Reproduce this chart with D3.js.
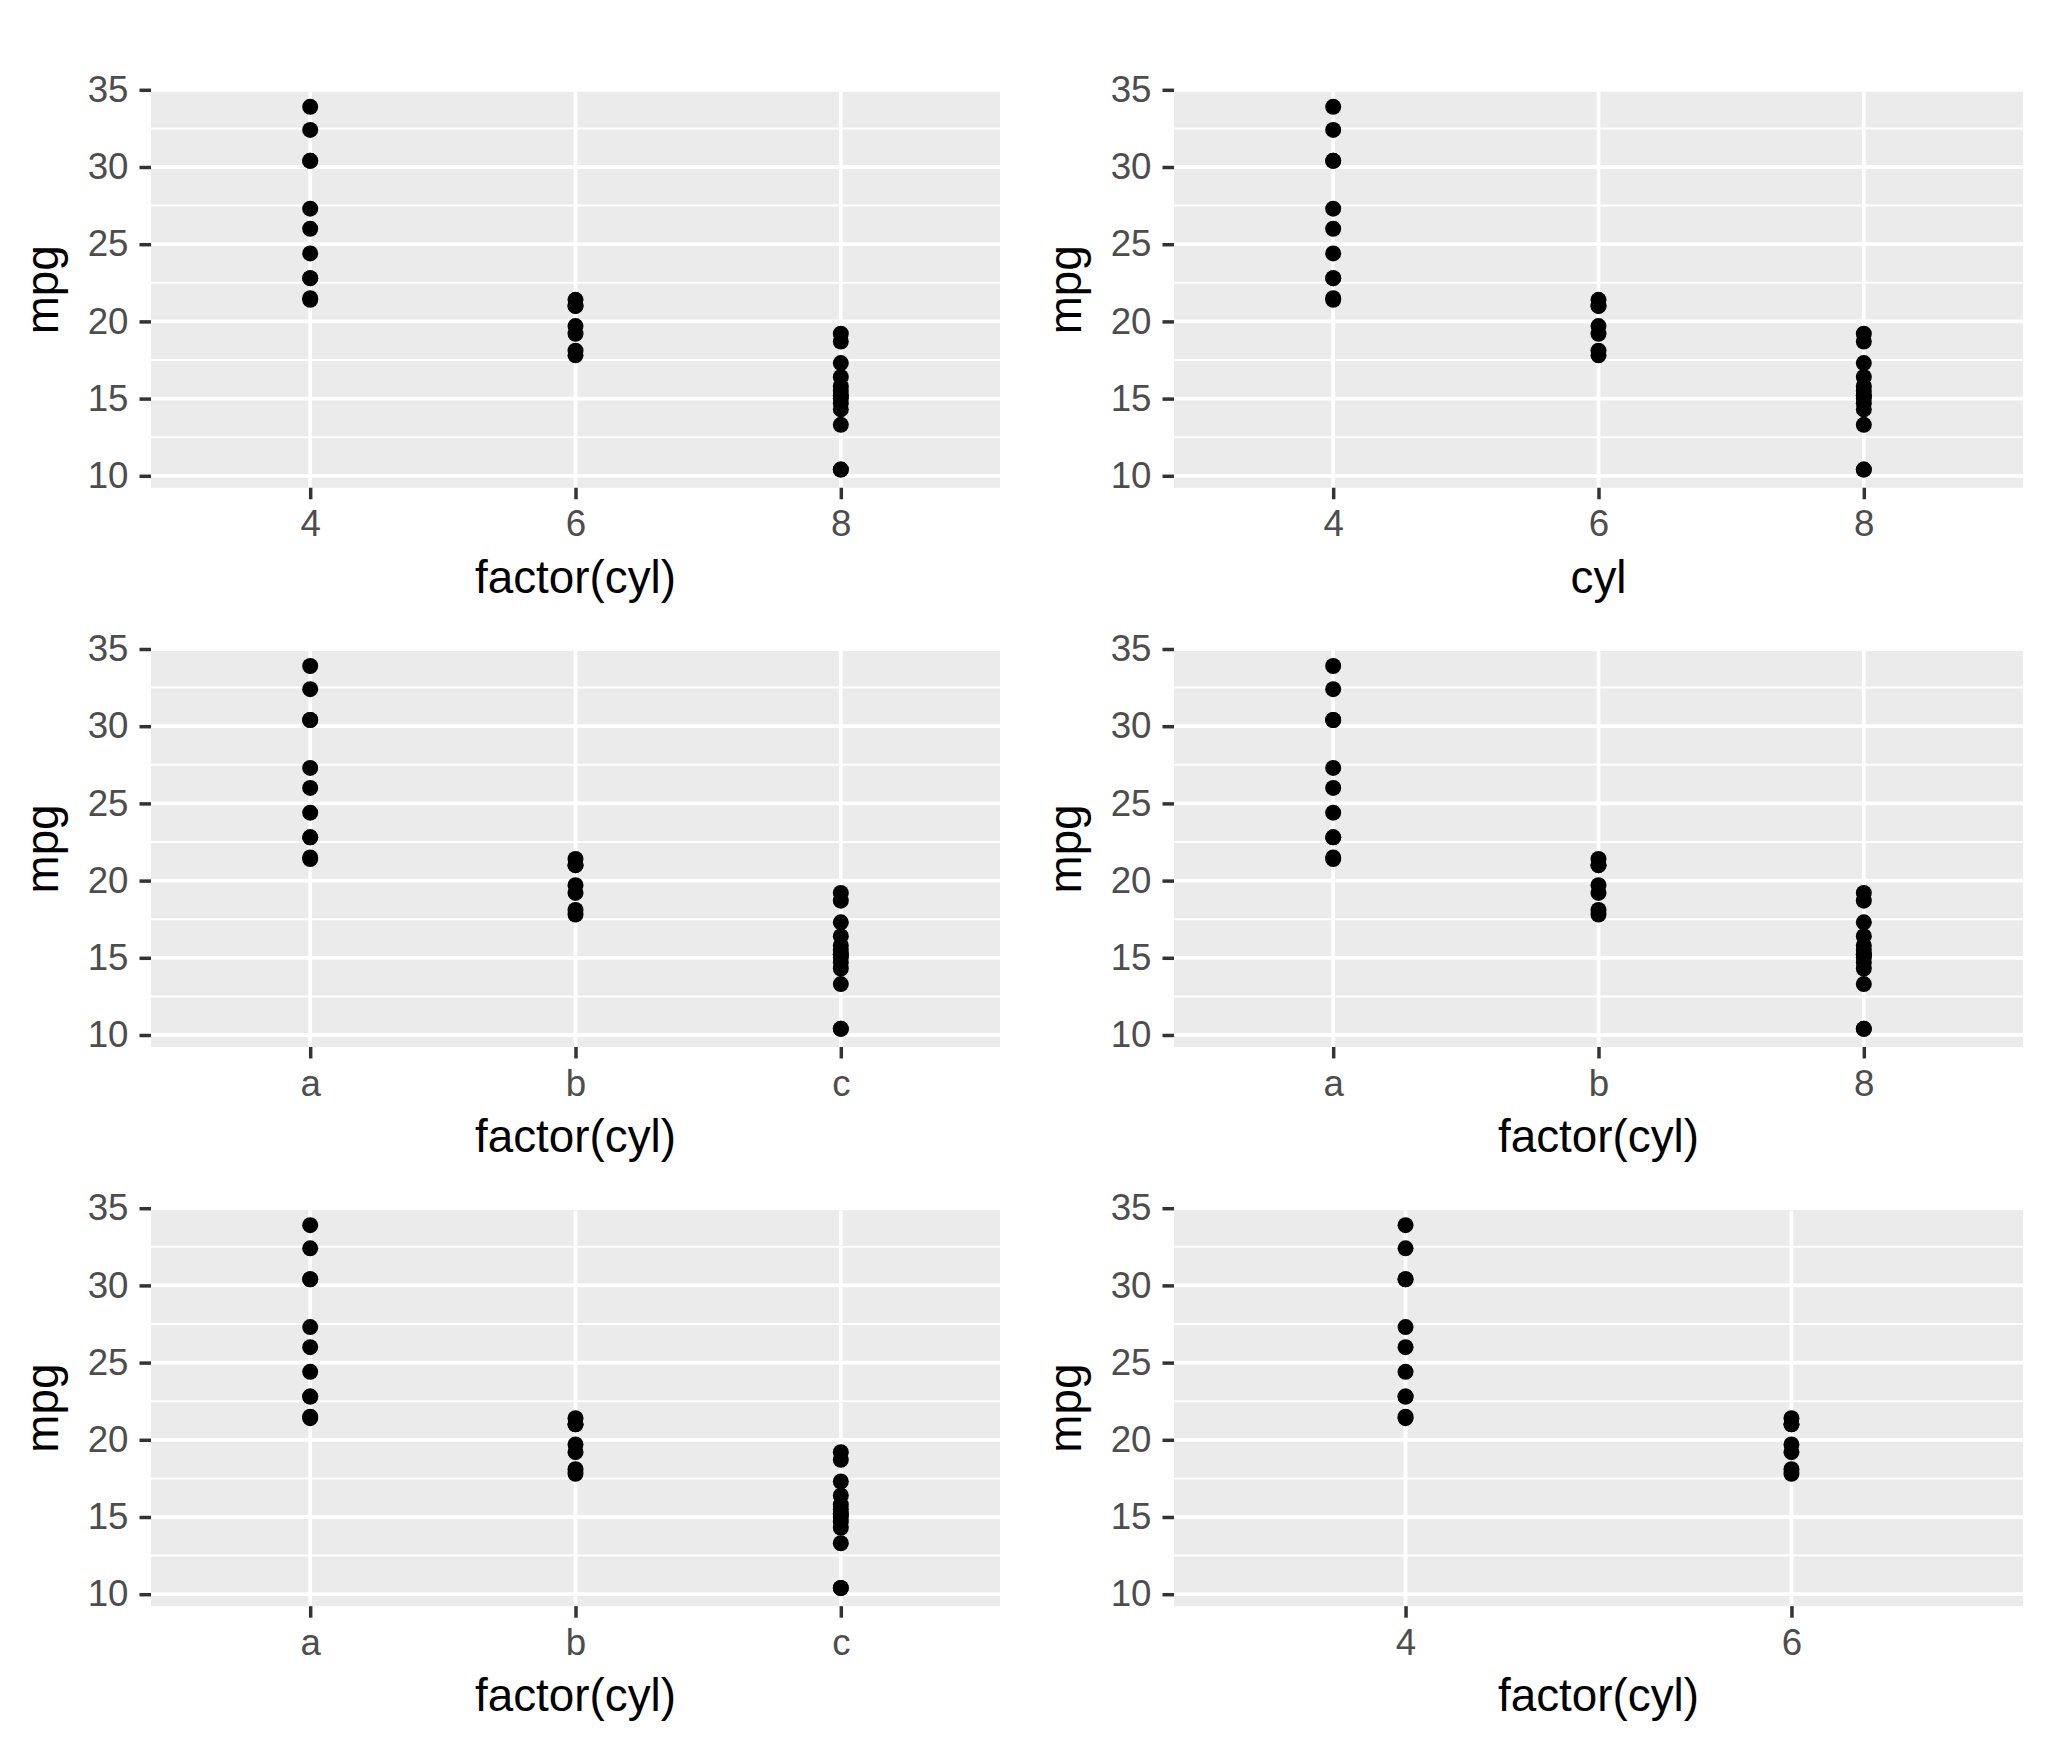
<!DOCTYPE html>
<html>
<head>
<meta charset="utf-8">
<script src="https://cdn.jsdelivr.net/npm/d3@7"></script>
<style>
  body { margin: 0; background: #fff; }
  svg text { font-family: "Liberation Sans", Arial, sans-serif; }
</style>
</head>
<body>
<div id="chart"></div>
<script>
// mtcars mpg, split by cylinder count
var mpg4 = [22.8, 24.4, 22.8, 32.4, 30.4, 33.9, 21.5, 27.3, 26.0, 30.4, 21.4];
var mpg6 = [21.0, 21.0, 21.4, 18.1, 19.2, 17.8, 19.7];
var mpg8 = [18.7, 14.3, 16.4, 17.3, 15.2, 10.4, 10.4, 14.7, 15.5, 15.2, 13.3, 19.2, 15.8, 15.0];

var yTicks = [10, 15, 20, 25, 30, 35];
var yMinor = [12.5, 17.5, 22.5, 27.5, 32.5];

// one entry per panel, row by row
var panelLevels = [["4","6","8"], ["4","6","8"], ["4","6","8"], ["4","6","8"], ["4","6","8"], ["4","6"]];
var panelLabels = [["4","6","8"], ["4","6","8"], ["a","b","c"], ["a","b","8"], ["a","b","c"], ["4","6"]];
var panelXTitle = ["factor(cyl)", "cyl", "factor(cyl)", "factor(cyl)", "factor(cyl)", "factor(cyl)"];

var W = 2046, H = 1743;
var colX = [151, 1174];
var panelW = 849;
var rowY35 = [89.8, 649, 1208.2];
var pxPerUnit = 15.44;

var byLevel = {"4": mpg4, "6": mpg6, "8": mpg8};

var svg = d3.select("#chart").append("svg")
  .attr("width", W)
  .attr("height", H);

panelLevels.forEach(function(levels, i) {
  var col = i % 2, row = Math.floor(i / 2);
  var left = colX[col];
  var y35 = rowY35[row];

  var y = d3.scaleLinear()
    .domain([10, 35])
    .range([y35 + 25 * pxPerUnit, y35]);
  var top = y(34.875), bottom = y(9.225);

  var x = d3.scalePoint()
    .domain(levels)
    .range([left, left + panelW])
    .padding(0.6);

  var g = svg.append("g");

  var clipId = "clip" + i;
  g.append("clipPath").attr("id", clipId)
    .append("rect")
    .attr("x", left).attr("y", top)
    .attr("width", panelW).attr("height", bottom - top);

  g.append("rect")
    .attr("x", left).attr("y", top)
    .attr("width", panelW).attr("height", bottom - top)
    .attr("fill", "#EBEBEB");

  var grid = g.append("g").attr("clip-path", "url(#" + clipId + ")");

  grid.selectAll(".minor").data(yMinor).enter().append("line")
    .attr("x1", left).attr("x2", left + panelW)
    .attr("y1", function(d) { return y(d); })
    .attr("y2", function(d) { return y(d); })
    .attr("stroke", "#fff").attr("stroke-width", 2);

  grid.selectAll(".major").data(yTicks).enter().append("line")
    .attr("x1", left).attr("x2", left + panelW)
    .attr("y1", function(d) { return y(d); })
    .attr("y2", function(d) { return y(d); })
    .attr("stroke", "#fff").attr("stroke-width", 3.8);

  grid.selectAll(".vmajor").data(levels).enter().append("line")
    .attr("x1", function(d) { return x(d); })
    .attr("x2", function(d) { return x(d); })
    .attr("y1", top).attr("y2", bottom)
    .attr("stroke", "#fff").attr("stroke-width", 3.8);

  // points
  levels.forEach(function(lv) {
    grid.selectAll(null).data(byLevel[lv]).enter().append("circle")
      .attr("cx", x(lv))
      .attr("cy", function(d) { return y(d); })
      .attr("r", 8)
      .attr("fill", "#000");
  });

  // axes
  var labels = panelLabels[i];
  var yAxis = d3.axisLeft(y).tickValues(yTicks).tickSize(11.5).tickPadding(11);
  var xAxis = d3.axisBottom(x).tickSize(11.5).tickPadding(11)
    .tickFormat(function(d) { return labels[levels.indexOf(d)]; });

  var ya = g.append("g").attr("transform", "translate(" + left + ",0)").call(yAxis);
  var xa = g.append("g").attr("transform", "translate(0," + bottom + ")").call(xAxis);

  [ya, xa].forEach(function(a) {
    a.select(".domain").remove();
    a.selectAll(".tick line").attr("stroke", "#333333").attr("stroke-width", 3.5);
    a.selectAll(".tick text")
      .attr("fill", "#4D4D4D")
      .style("font-size", "36.7px")
      .style("font-family", "'Liberation Sans', Arial, sans-serif");
  });

  g.append("text")
    .attr("x", left + panelW / 2)
    .attr("y", bottom + 105)
    .attr("text-anchor", "middle")
    .style("font-size", "45.8px")
    .attr("fill", "#000")
    .text(panelXTitle[i]);

  g.append("text")
    .attr("transform", "translate(" + (left - 93) + "," + ((top + bottom) / 2) + ") rotate(-90)")
    .attr("text-anchor", "middle")
    .style("font-size", "45.8px")
    .attr("fill", "#000")
    .text("mpg");
});
</script>
</body>
</html>
